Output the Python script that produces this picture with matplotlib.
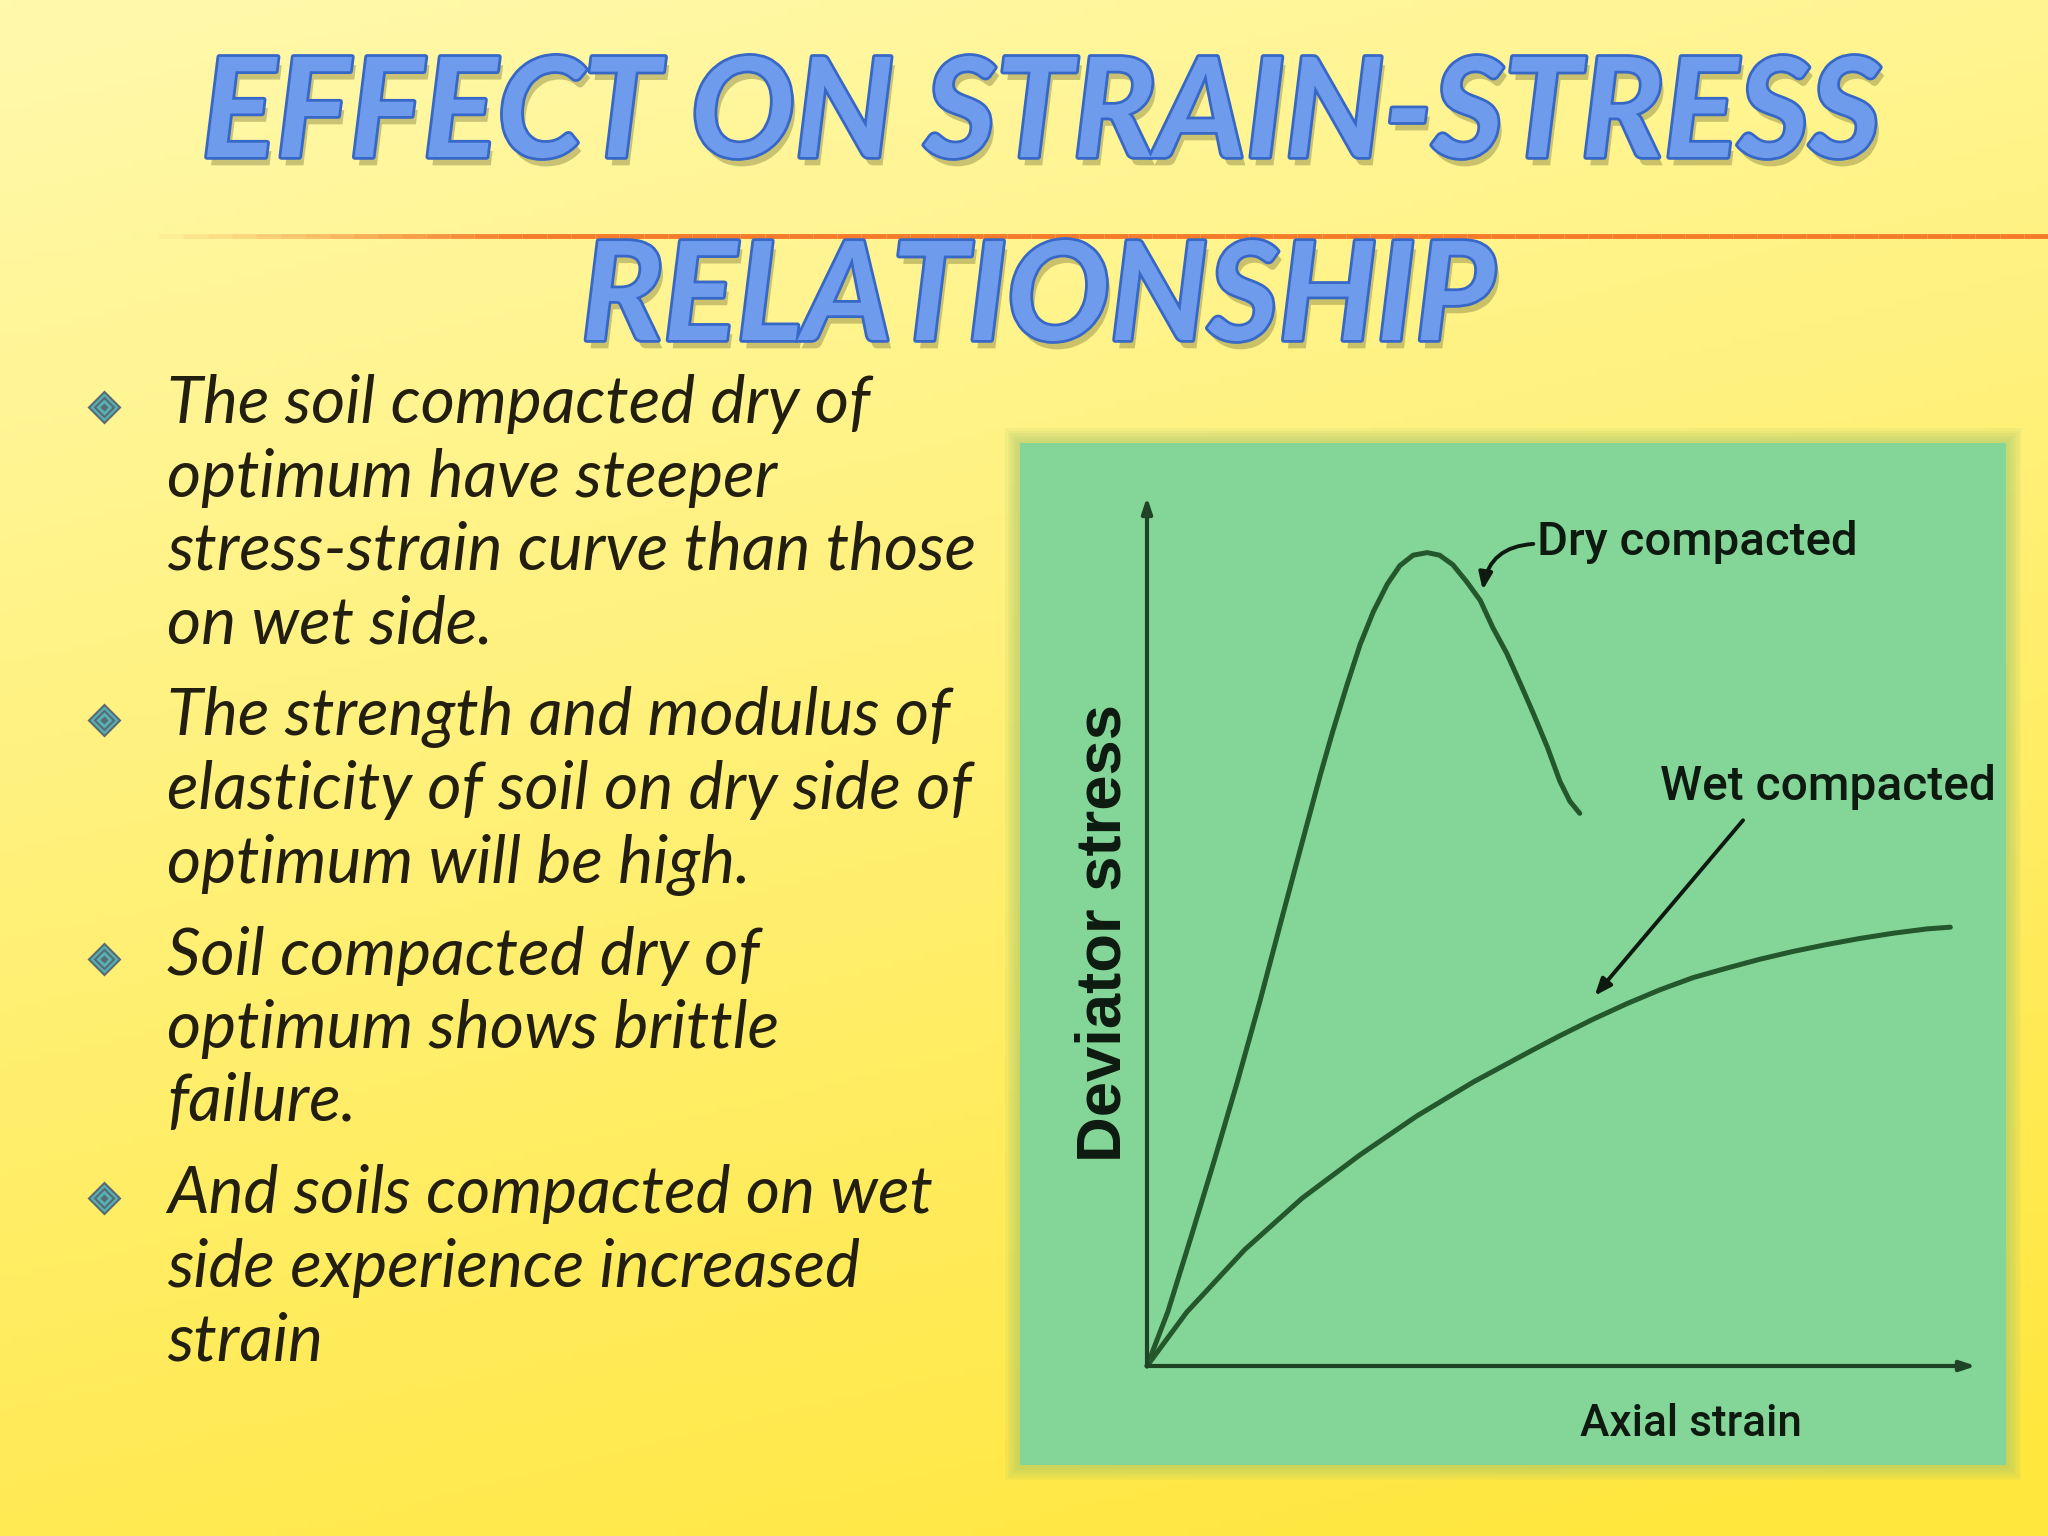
import numpy as np
import matplotlib.pyplot as plt
from matplotlib import patheffects as pe
from matplotlib.patches import Rectangle
from matplotlib.collections import LineCollection

# Дані (умовні одиниці осей)
dry_strain = [0.00, 0.25, 0.53, 0.81, 1.09, 1.36, 1.64, 1.87, 2.09, 2.24,
              2.41, 2.57, 2.73, 2.90, 3.05, 3.21, 3.38, 3.53, 3.69, 3.86,
              4.02, 4.17, 4.34, 4.50, 4.66, 4.83, 4.98, 5.10, 5.22]
dry_stress = [0.00, 0.62, 1.48, 2.36, 3.27, 4.19, 5.20, 6.02, 6.80, 7.30,
              7.83, 8.30, 8.68, 9.00, 9.21, 9.33, 9.36, 9.33, 9.22, 9.02,
              8.81, 8.50, 8.20, 7.86, 7.51, 7.12, 6.73, 6.50, 6.36]

wet_strain = [0.00, 0.48, 1.18, 1.87, 2.57, 3.26, 3.94, 4.64, 4.98, 5.38,
              5.79, 6.19, 6.59, 7.00, 7.39, 7.79, 8.20, 8.60, 9.00, 9.41, 9.69]
wet_stress = [0.00, 0.62, 1.34, 1.93, 2.43, 2.88, 3.27, 3.63, 3.80, 3.99,
              4.17, 4.33, 4.47, 4.58, 4.68, 4.77, 4.85, 4.92, 4.98, 5.03, 5.05]

title_lines = ['EFFECT ON STRAIN-STRESS', 'RELATIONSHIP']
bullets = [
    ['The soil compacted dry of', 'optimum have steeper',
     'stress-strain curve than those', 'on wet side.'],
    ['The strength and modulus of', 'elasticity of soil on dry side of',
     'optimum will be high.'],
    ['Soil compacted dry of', 'optimum shows brittle', 'failure.'],
    ['And soils compacted on wet', 'side experience increased', 'strain'],
]

W, H = 2048, 1536


def fx(px):
    return px / W


def fy(py):
    return 1 - py / H


fig = plt.figure(figsize=(20.48, 15.36), dpi=100)
rend = fig.canvas.get_renderer()


def fit(t, target, vertical=False):
    # підганяємо розмір шрифту під ширину з референсу
    bb = t.get_window_extent(renderer=rend)
    size = bb.height if vertical else bb.width
    t.set_fontsize(t.get_fontsize() * target / size)


# Жовтий градієнтний фон
bg = fig.add_axes([0, 0, 1, 1])
gy, gx = np.mgrid[0:1:200j, 0:1:200j]
t = np.clip(0.8 * gy + 0.25 * gx, 0, 1)
top = np.array([255, 249, 172]) / 255
bot = np.array([255, 231, 62]) / 255
img = top[None, None, :] * (1 - t[..., None]) + bot[None, None, :] * t[..., None]
bg.imshow(img, extent=[0, 1, 0, 1], aspect='auto', origin='upper')
bg.set_xlim(0, 1)
bg.set_ylim(0, 1)
bg.axis('off')

# Помаранчева лінія під заголовком
xs = np.linspace(fx(135), 1.0, 80)
segs = [[(xs[i], fy(236)), (xs[i + 1], fy(236))] for i in range(len(xs) - 1)]
alphas = np.clip(np.linspace(0, 1, len(segs)) * 5, 0, 1)
cols = [(0.96, 0.48, 0.16, a) for a in alphas]
bg.add_collection(LineCollection(segs, colors=cols, linewidths=3.5))

# Заголовок
title_fx = [pe.withSimplePatchShadow(offset=(3, -6), shadow_rgbFace='#8a8440', alpha=0.45),
            pe.Stroke(linewidth=4, foreground='#3768c8'),
            pe.Normal()]
for txt, cx, base, wid in zip(title_lines, [1041, 1038], [157, 340], [1680, 914]):
    tt = fig.text(fx(cx), fy(base), txt, ha='center', va='baseline',
                  fontsize=90, fontweight='bold', fontstyle='italic',
                  family='Lato', color='#6e9bec', path_effects=title_fx)
    fit(tt, wid)

# Текст з маркерами
body = []
line_y = 423
for block in bullets:
    by = line_y - 16
    for s, c in zip([32, 26, 20, 14, 8], ['#5b6a70', '#52b2b6', '#5b6a70', '#52b2b6', '#5b6a70']):
        bg.plot(fx(104), fy(by), marker='D', markersize=s * 0.55, color=c, mec='none')
    for txt in block:
        body.append(fig.text(fx(167), fy(line_y), txt, ha='left', va='baseline',
                             fontsize=44, fontstyle='italic', family='Lato',
                             color='#221e10'))
        line_y += 73.5
    line_y += 18.5
ref = body[2].get_window_extent(renderer=rend).width
for b in body:
    b.set_fontsize(b.get_fontsize() * 810 / ref)

# Зелена панель з розмитим краєм
px0, py0, px1, py1 = 1020, 443, 2006, 1465
for k in range(6, 0, -1):
    d = k * 2.5
    bg.add_patch(Rectangle((fx(px0 - d), fy(py1 + d)), (px1 - px0 + 2 * d) / W,
                           (py1 - py0 + 2 * d) / H, facecolor='#a6c86c',
                           edgecolor='none', alpha=0.13))

ax = fig.add_axes([fx(px0), fy(py1), (px1 - px0) / W, (py1 - py0) / H])
ax.set_facecolor('#84d698')
ux = (1976 - 1147) / 10
uy = (1366 - 497) / 10
ax.set_xlim(-(1147 - px0) / ux, (px1 - 1147) / ux)
ax.set_ylim(-(py1 - 1366) / uy, (1366 - py0) / uy)
for sp in ax.spines.values():
    sp.set_visible(False)
ax.set_xticks([])
ax.set_yticks([])

lc = '#24572c'
ax.plot(dry_strain, dry_stress, color=lc, lw=3.6, solid_capstyle='round',
        solid_joinstyle='round')
ax.plot(wet_strain, wet_stress, color=lc, lw=3.6, solid_capstyle='round',
        solid_joinstyle='round')

# Осі зі стрілками
arrow_kw = dict(arrowstyle='-|>,head_length=0.9,head_width=0.3', color='#1f4425', lw=3,
                shrinkA=0, shrinkB=0)
ax.annotate('', xy=(10, 0), xytext=(0, 0), arrowprops=arrow_kw)
ax.annotate('', xy=(0, 10), xytext=(0, 0), arrowprops=arrow_kw)

# Підписи
tc = '#0e1a10'
t1 = ax.text(-0.52, 4.98, 'Deviator stress', rotation=90, ha='center', va='center',
             fontsize=35, fontweight='bold', family='Liberation Sans', color=tc)
fit(t1, 458, vertical=True)
lab_kw = dict(ha='center', va='baseline', fontsize=40, family='Roboto',
              fontweight='medium', color=tc)
t2 = ax.text(6.56, -0.81, 'Axial strain', **lab_kw)
fit(t2, 222)
t3 = ax.text(6.64, 9.33, 'Dry compacted', **lab_kw)
fit(t3, 320)
t4 = ax.text(8.21, 6.51, 'Wet compacted', **lab_kw)
fit(t4, 336)

ann_kw = dict(arrowstyle='-|>,head_length=1.0,head_width=0.4', color=tc, lw=2.8,
              shrinkA=0, shrinkB=0)
ax.annotate('', xy=(4.05, 8.93), xytext=(4.66, 9.46),
            arrowprops=dict(connectionstyle='arc3,rad=0.4', **ann_kw))
ax.annotate('', xy=(5.40, 4.26), xytext=(7.19, 6.28), arrowprops=ann_kw)

fig.savefig('out.png', dpi=100)
